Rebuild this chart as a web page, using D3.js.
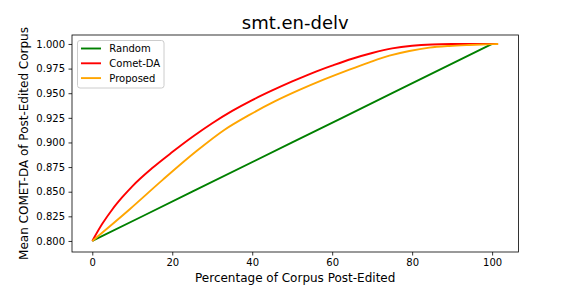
<!DOCTYPE html>
<html>
<head>
<meta charset="utf-8">
<script src="https://cdn.jsdelivr.net/npm/d3@7"></script>
<style>
  html, body { margin: 0; padding: 0; background: #fff; }
  svg { display: block; font-family: "DejaVu Sans", sans-serif; }
</style>
</head>
<body>
<svg id="chart" width="576" height="288"></svg>
<script>
// data
const title = 'smt.en-delv';
const xTicks = [0, 20, 40, 60, 80, 100];
const yTicks = [0.800, 0.825, 0.850, 0.875, 0.900, 0.925, 0.950, 0.975, 1.000];

const randomX = [0, 25, 50, 75, 100];
const randomY = [0.800, 0.850, 0.900, 0.950, 1.000];

const cometX = [0, 2.5, 5, 7.5, 10, 15, 20, 25, 30, 35, 40, 45, 50, 55, 60, 65, 70, 75, 80, 85, 90, 95, 101.5];
const cometY = [0.800, 0.8174, 0.832, 0.8444, 0.8555, 0.874, 0.8902, 0.9055, 0.9195, 0.932, 0.943, 0.9528, 0.962, 0.9705, 0.978, 0.985, 0.9908, 0.9955, 0.9982, 0.9995, 0.9999, 1.000, 1.000];

const proposedX = [0, 9.3, 17.6, 26, 33, 39.3, 45.5, 51.8, 58, 64.3, 69.3, 74.3, 79.3, 84.3, 89.3, 94.3, 101.5];
const proposedY = [0.800, 0.832, 0.862, 0.891, 0.9127, 0.928, 0.9414, 0.9533, 0.964, 0.974, 0.9814, 0.9881, 0.9929, 0.9963, 0.998, 0.999, 1.000];

const series = [
    { name: 'Random', color: 'green', xs: randomX, ys: randomY },
    { name: 'Comet-DA', color: 'red', xs: cometX, ys: cometY },
    { name: 'Proposed', color: 'orange', xs: proposedX, ys: proposedY },
];

const margin = { top: 35, right: 57.6, bottom: 36, left: 72 };
const width = 576, height = 288;

const svg = d3.select('#chart');

const x = d3.scaleLinear()
    .domain([-5.075, 106.575])
    .range([margin.left, width - margin.right]);

const y = d3.scaleLinear()
    .domain([0.7888, 1.0091])
    .range([height - margin.bottom, margin.top]);

const line = d3.line()
    .x(d => x(d[0]))
    .y(d => y(d[1]))
    .curve(d3.curveMonotoneX);

const plot = svg.append('g');
series.forEach(s => {
    plot.append('path')
        .datum(s.xs.map((v, i) => [v, s.ys[i]]))
        .attr('d', line)
        .attr('fill', 'none')
        .attr('stroke', s.color)
        .attr('stroke-width', 1.9);
});

// axes
const xAxis = svg.append('g')
    .attr('transform', `translate(0,${height - margin.bottom})`)
    .call(d3.axisBottom(x).tickValues(xTicks).tickSize(3.5).tickPadding(3.5).tickSizeOuter(0));

const yAxis = svg.append('g')
    .attr('transform', `translate(${margin.left},0)`)
    .call(d3.axisLeft(y).tickValues(yTicks).tickFormat(d3.format('.3f')).tickSize(3.5).tickPadding(3.5).tickSizeOuter(0));

[xAxis, yAxis].forEach(g => {
    g.selectAll('.domain').remove();
    g.selectAll('line').attr('stroke', '#000').attr('stroke-width', 0.8);
    g.selectAll('text').attr('font-size', '10px').attr('fill', '#000')
        .attr('font-family', '"DejaVu Sans", sans-serif');
});

// frame
svg.append('rect')
    .attr('x', margin.left)
    .attr('y', margin.top)
    .attr('width', width - margin.left - margin.right)
    .attr('height', height - margin.top - margin.bottom)
    .attr('fill', 'none')
    .attr('stroke', '#000')
    .attr('stroke-width', 0.8);

// title and labels
svg.append('text')
    .attr('x', (margin.left + width - margin.right) / 2)
    .attr('y', 29)
    .attr('text-anchor', 'middle')
    .attr('font-size', '18px')
    .text(title);

svg.append('text')
    .attr('x', (margin.left + width - margin.right) / 2)
    .attr('y', 282)
    .attr('text-anchor', 'middle')
    .attr('font-size', '12px')
    .text('Percentage of Corpus Post-Edited');

svg.append('text')
    .attr('transform', `translate(28,${(margin.top + height - margin.bottom) / 2}) rotate(-90)`)
    .attr('text-anchor', 'middle')
    .attr('font-size', '12px')
    .text('Mean COMET-DA of Post-Edited Corpus');

// legend
const legend = svg.append('g').attr('transform', 'translate(77.5,40.5)');
legend.append('rect')
    .attr('width', 86.5)
    .attr('height', 47.5)
    .attr('rx', 2.5)
    .attr('fill', 'white')
    .attr('fill-opacity', 0.8)
    .attr('stroke', '#cccccc');

series.forEach((s, i) => {
    const cy = 8 + i * 14.8;
    legend.append('line')
        .attr('x1', 3.5).attr('x2', 23.5)
        .attr('y1', cy).attr('y2', cy)
        .attr('stroke', s.color)
        .attr('stroke-width', 1.9);
    legend.append('text')
        .attr('x', 31.8)
        .attr('y', cy + 3.6)
        .attr('font-size', '10px')
        .text(s.name);
});
</script>
</body>
</html>
